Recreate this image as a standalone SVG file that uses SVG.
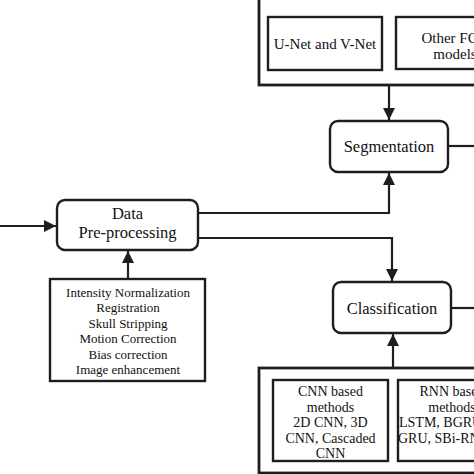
<svg xmlns="http://www.w3.org/2000/svg" width="474" height="474" viewBox="0 0 474 474">
<style>
.box{fill:#fff;stroke:#1e1e1e;stroke-width:2.4}
.outer{fill:#fff;stroke:#1e1e1e;stroke-width:2.8}
.rbox{fill:#fff;stroke:#1e1e1e;stroke-width:2.4}
.ln{fill:none;stroke:#1e1e1e;stroke-width:2.2}
.t{font-family:'Liberation Serif','DejaVu Serif',serif;fill:#111;text-anchor:middle}
.big{font-size:16.5px}
.mid{font-size:15px}
.sm{font-size:14px}
.xs{font-size:13px}
</style>
<defs>
<marker id="ah" viewBox="0 0 12 12" refX="12" refY="6" markerWidth="12" markerHeight="12" markerUnits="userSpaceOnUse" orient="auto">
<path d="M0,0 L12,6 L0,12 z" fill="#1e1e1e"/>
</marker>
</defs>
<rect width="474" height="474" fill="#fff"/>
<g id="connectors">
<path class="ln" d="M0,226 H56" marker-end="url(#ah)"/>
<path class="ln" d="M389,85 V120" marker-end="url(#ah)"/>
<path class="ln" d="M198,213 H389 V173" marker-end="url(#ah)"/>
<path class="ln" d="M198,238 H392 V281" marker-end="url(#ah)"/>
<path class="ln" d="M128,279 V251" marker-end="url(#ah)"/>
<path class="ln" d="M393,368 V334" marker-end="url(#ah)"/>
<path class="ln" d="M448,146 H476"/>
<path class="ln" d="M451,308 H476"/>
</g>
<g id="fcn-group">
<rect class="outer" x="259" y="-4" width="224" height="89"/>
</g>
<g id="unet">
<rect class="box" x="268" y="17" width="114" height="53"/>
<text class="t mid" x="325" y="49" font-family="Liberation Serif, serif">U-Net and V-Net</text>
</g>
<g id="other-fcn">
<rect class="box" x="396" y="17" width="90" height="52"/>
<text class="t mid" x="455" y="43" font-family="Liberation Serif, serif">Other FCN</text>
<text class="t mid" x="455" y="59" font-family="Liberation Serif, serif">models</text>
</g>
<g id="segmentation">
<rect class="rbox" x="330" y="121" width="118" height="51" rx="8"/>
<text class="t big" x="389" y="152" font-family="Liberation Serif, serif">Segmentation</text>
</g>
<g id="data-preprocessing">
<rect class="rbox" x="57" y="200" width="141" height="50" rx="8"/>
<text class="t big" x="127.5" y="219" font-family="Liberation Serif, serif">Data</text>
<text class="t big" x="127.5" y="238" font-family="Liberation Serif, serif">Pre-processing</text>
</g>
<g id="preprocessing-steps">
<rect class="box" x="50" y="279" width="155" height="102"/>
<text class="t xs" x="128" y="296.5" font-family="Liberation Serif, serif">Intensity Normalization</text>
<text class="t xs" x="128" y="312" font-family="Liberation Serif, serif">Registration</text>
<text class="t xs" x="128" y="327.5" font-family="Liberation Serif, serif">Skull Stripping</text>
<text class="t xs" x="128" y="343" font-family="Liberation Serif, serif">Motion Correction</text>
<text class="t xs" x="128" y="358.5" font-family="Liberation Serif, serif">Bias correction</text>
<text class="t xs" x="128" y="374" font-family="Liberation Serif, serif">Image enhancement</text>
</g>
<g id="classification">
<rect class="rbox" x="333" y="282" width="118" height="51" rx="8"/>
<text class="t big" x="392" y="314" font-family="Liberation Serif, serif">Classification</text>
</g>
<g id="methods-group">
<rect class="outer" x="259" y="368" width="224" height="105"/>
</g>
<g id="cnn-methods">
<rect class="box" x="273" y="380" width="115" height="81"/>
<text class="t sm" x="330.5" y="396" font-family="Liberation Serif, serif">CNN based</text>
<text class="t sm" x="330.5" y="411.5" font-family="Liberation Serif, serif">methods</text>
<text class="t sm" x="330.5" y="427" font-family="Liberation Serif, serif">2D CNN, 3D</text>
<text class="t sm" x="330.5" y="442.5" font-family="Liberation Serif, serif">CNN, Cascaded</text>
<text class="t sm" x="330.5" y="458" font-family="Liberation Serif, serif">CNN</text>
</g>
<g id="rnn-methods">
<rect class="box" x="398" y="380" width="90" height="81"/>
<text class="t sm" x="452" y="396" font-family="Liberation Serif, serif">RNN based</text>
<text class="t sm" x="452" y="411.5" font-family="Liberation Serif, serif">methods</text>
<text class="t sm" x="399" y="427" style="text-anchor:start" font-family="Liberation Serif, serif">LSTM, BGRU,</text>
<text class="t sm" x="398" y="442.5" style="text-anchor:start" font-family="Liberation Serif, serif">GRU, SBi-RNN</text>
</g>
</svg>
